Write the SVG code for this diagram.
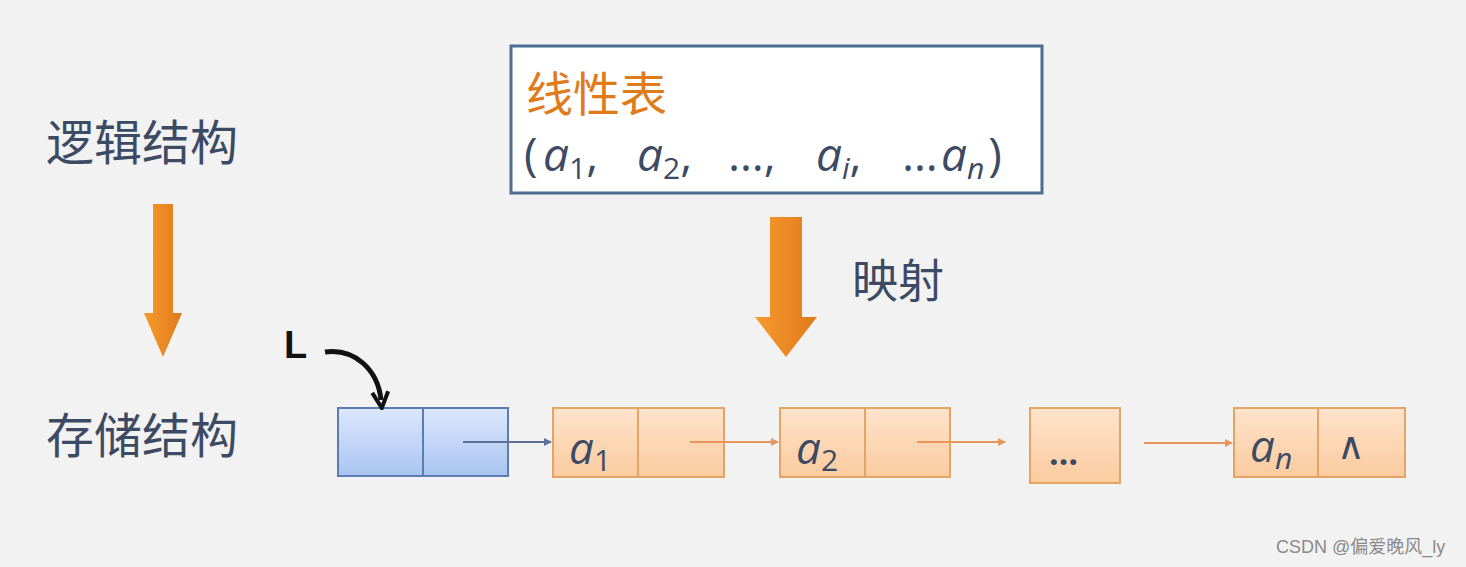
<svg xmlns="http://www.w3.org/2000/svg" width="1466" height="567" viewBox="0 0 1466 567">
<style>
.cn{font-family:"Noto Sans CJK SC","Noto Sans",sans-serif;fill:#3c4b63}
.it{font-family:"Open Sans","Noto Sans",sans-serif;font-style:italic;fill:#3c4b63}
.sub{font-family:"Open Sans","Noto Sans",sans-serif;font-style:normal;fill:#3c4b63}
.onode{fill:url(#og);stroke:#e3a464;stroke-width:2}
.bnode{fill:url(#bg);stroke:#5b7db3;stroke-width:2}
.olink{stroke:#e8965a;stroke-width:2;fill:none}
</style>
<defs>
<linearGradient id="og" x1="0" y1="0" x2="0" y2="1"><stop offset="0" stop-color="#fde3cb"/><stop offset="1" stop-color="#fbcb9f"/></linearGradient>
<linearGradient id="bg" x1="0" y1="0" x2="0" y2="1"><stop offset="0" stop-color="#dce8fc"/><stop offset="1" stop-color="#a9c4f1"/></linearGradient>
<linearGradient id="ar" x1="0" y1="0" x2="1" y2="0"><stop offset="0" stop-color="#f79a2c"/><stop offset="1" stop-color="#e07a1c"/></linearGradient>
<marker id="mo" markerWidth="8" markerHeight="8" refX="7" refY="4" orient="auto" markerUnits="userSpaceOnUse"><path d="M0,0 L8,4 L0,8 Z" fill="#e8965a"/></marker>
<marker id="mb" markerWidth="8" markerHeight="8" refX="7" refY="4" orient="auto" markerUnits="userSpaceOnUse"><path d="M0,0 L8,4 L0,8 Z" fill="#5b7199"/></marker>
<marker id="mk" markerWidth="20" markerHeight="20" refX="10" refY="10" orient="auto" markerUnits="userSpaceOnUse"><path d="M2,2 L18,10 L2,18" fill="none" stroke="#111" stroke-width="4" stroke-linejoin="miter"/></marker>
</defs>
<rect width="1466" height="567" fill="#f2f2f2"/>

<g id="logical">
<text x="46" y="160" class="cn" font-size="48">逻辑结构</text>
</g>
<g id="storage">
<text x="46" y="453" class="cn" font-size="48">存储结构</text>
</g>
<g id="linear-list">
<rect x="511" y="46" width="531" height="147" fill="#ffffff" stroke="#4d6d93" stroke-width="3"/>
<text x="526" y="111" font-family="Noto Sans CJK SC,sans-serif" font-size="47" fill="#e07b1a">线性表</text>
<text y="171" class="it" font-size="46"><tspan class="sub" x="524">(</tspan><tspan x="543">a</tspan><tspan class="sub" font-size="30" dy="8">1</tspan><tspan class="sub" dy="-8">,</tspan><tspan x="637">a</tspan><tspan class="sub" font-size="30" dy="8">2</tspan><tspan class="sub" dy="-8">,</tspan><tspan class="sub" x="728">…,</tspan><tspan x="816">a</tspan><tspan font-size="30" dy="8">i</tspan><tspan class="sub" dy="-8">,</tspan><tspan class="sub" x="902">…</tspan><tspan x="941">a</tspan><tspan font-size="30" dy="8">n</tspan><tspan class="sub" dy="-8" dx="4">)</tspan></text>
</g>
<g id="mapping">
<text x="852" y="297" class="cn" font-size="46">映射</text>
</g>
<g id="L-label">
<text x="284" y="358" font-family="Liberation Sans,sans-serif" font-weight="bold" font-size="38" fill="#111">L</text>
</g>
<g id="head">
<rect x="338" y="408" width="170" height="68" class="bnode"/>
<line x1="423" y1="408" x2="423" y2="476" stroke="#5b7db3" stroke-width="2"/>
</g>
<g id="node-a1">
<rect x="553" y="408" width="171" height="69" class="onode"/>
<line x1="638" y1="408" x2="638" y2="477" stroke="#e3a464" stroke-width="2"/>
<text x="569" y="464" class="it" font-size="44">a<tspan class="sub" font-size="30" dy="7">1</tspan></text>
</g>
<g id="node-a2">
<rect x="780" y="408" width="170" height="69" class="onode"/>
<line x1="865" y1="408" x2="865" y2="477" stroke="#e3a464" stroke-width="2"/>
<text x="796" y="464" class="it" font-size="44">a<tspan class="sub" font-size="30" dy="7">2</tspan></text>
</g>
<g id="node-dots">
<rect x="1030" y="408" width="90" height="75" class="onode"/>
<text x="1049" y="465" class="sub" font-size="34" font-weight="bold">…</text>
</g>
<g id="node-an">
<rect x="1234" y="408" width="171" height="69" class="onode"/>
<line x1="1318" y1="408" x2="1318" y2="477" stroke="#e3a464" stroke-width="2"/>
<text x="1250" y="462" class="it" font-size="44">a<tspan font-size="30" dy="7">n</tspan></text>
<text x="1337" y="459" class="sub" font-size="38">∧</text>
</g>
<g id="connectors">
<polygon points="153,204 173,204 173,313 182,313 163,357 144,313 153,313" fill="url(#ar)"/>
<polygon points="770,217 802,217 802,317 817,317 786,357 755,317 770,317" fill="url(#ar)"/>
<path d="M325,352 C355,348 378,370 381,400" fill="none" stroke="#111" stroke-width="5" marker-end="url(#mk)"/>
<line x1="463" y1="442" x2="551" y2="442" stroke="#5b7199" stroke-width="2" marker-end="url(#mb)"/>
<line x1="690" y1="442" x2="778" y2="442" class="olink" marker-end="url(#mo)"/>
<line x1="917" y1="442" x2="1005" y2="442" class="olink" marker-end="url(#mo)"/>
<line x1="1144" y1="443" x2="1232" y2="443" class="olink" marker-end="url(#mo)"/>
</g>
<g id="watermark">
<text x="1276" y="553" font-family="Liberation Sans,Noto Sans CJK SC,sans-serif" font-size="18" fill="#8a8a8a">CSDN @偏爱晚风_ly</text>
</g>
</svg>
